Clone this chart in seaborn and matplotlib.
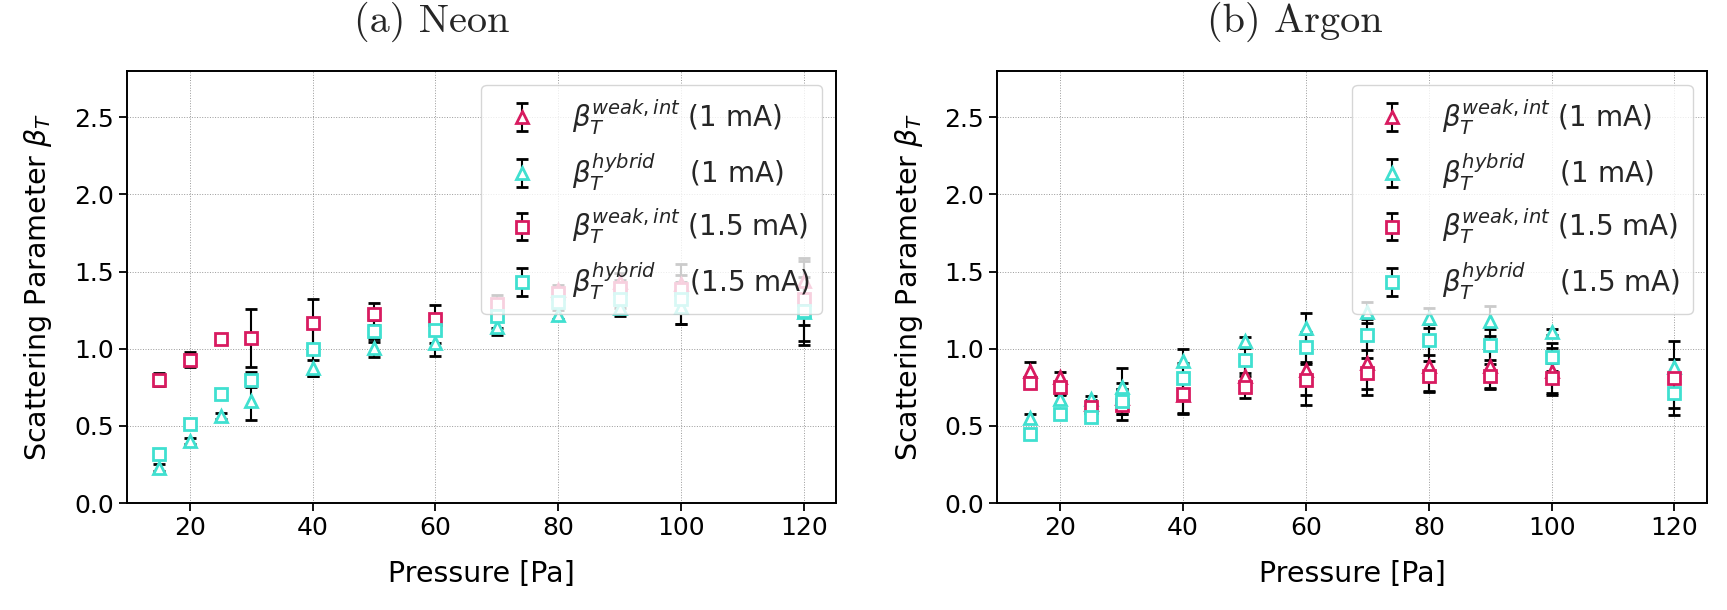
import numpy as np
import matplotlib
matplotlib.use("Agg")
import matplotlib.pyplot as plt
import seaborn as sns

nan = np.nan

# ---------------- data ----------------
pressure = [15, 20, 25, 30, 40, 50, 60, 70, 80, 90, 100, 120]
x_ticks = [20, 40, 60, 80, 100, 120]
y_ticks = [0.0, 0.5, 1.0, 1.5, 2.0, 2.5]

labels = [
    r"$\beta_T^{weak,int}$ (1 mA)",
    r"$\beta_T^{hybrid}$    (1 mA)",
    r"$\beta_T^{weak,int}$ (1.5 mA)",
    r"$\beta_T^{hybrid}$    (1.5 mA)",
]
titles = ["(a) Neon", "(b) Argon"]

# Neon
neon_weak_1 = [nan, nan, nan, nan, nan, nan, nan, nan, 1.38, 1.43, 1.42, 1.44]
neon_weak_1_err = [nan, nan, nan, nan, nan, nan, nan, nan, 0.03, 0.06, 0.13, 0.13]
neon_hyb_1 = [0.23, 0.40, 0.565, 0.66, 0.875, 1.005, 1.04, 1.14, 1.22, 1.265, 1.27, 1.24]
neon_hyb_1_err = [0.02, 0.02, 0.02, 0.12, 0.05, 0.06, 0.09, 0.05, 0.03, 0.05, 0.11, 0.085]
neon_weak_15 = [0.80, 0.93, 1.065, 1.07, 1.165, 1.225, 1.195, 1.29, 1.36, 1.395, 1.385, 1.32]
neon_weak_15_err = [0.04, 0.05, 0.03, 0.19, 0.16, 0.07, 0.09, 0.06, 0.03, 0.05, 0.05, 0.27]
neon_hyb_15 = [0.32, 0.515, 0.705, 0.80, 0.995, 1.115, 1.12, 1.215, 1.30, 1.325, 1.32, 1.245]
neon_hyb_15_err = [0.02, 0.03, 0.02, 0.05, 0.17, 0.07, 0.08, 0.08, 0.03, 0.06, 0.16, 0.22]

# Argon
argon_weak_1 = [0.853, 0.816, 0.64, 0.68, 0.70, 0.825, 0.864, 0.907, 0.885, 0.885, 0.853, nan]
argon_weak_1_err = [0.06, 0.03, 0.03, 0.10, 0.12, 0.10, 0.23, 0.21, 0.16, 0.14, 0.15, nan]
argon_hyb_1 = [0.55, 0.673, 0.673, 0.755, 0.918, 1.048, 1.134, 1.236, 1.199, 1.18, 1.106, 0.881]
argon_hyb_1_err = [0.03, 0.03, 0.02, 0.12, 0.08, 0.03, 0.10, 0.07, 0.065, 0.10, 0.02, 0.05]
argon_weak_15 = [0.781, 0.749, 0.625, 0.636, 0.706, 0.751, 0.799, 0.842, 0.82, 0.822, 0.81, 0.81]
argon_weak_15_err = [0.03, 0.04, 0.03, 0.10, 0.12, 0.07, 0.10, 0.10, 0.10, 0.08, 0.10, 0.24]
argon_hyb_15 = [0.446, 0.576, 0.556, 0.658, 0.81, 0.924, 1.011, 1.091, 1.058, 1.026, 0.946, 0.716]
argon_hyb_15_err = [0.02, 0.03, 0.02, 0.08, 0.10, 0.08, 0.10, 0.10, 0.10, 0.10, 0.09, 0.10]

RED = "#D81B60"
TEAL = "#40E0D0"

# ---------------- style ----------------
sns.set_theme(style="ticks")
plt.rcParams["font.family"] = ["DejaVu Sans"]
plt.rcParams["mathtext.fontset"] = "dejavusans"

fig = plt.figure(figsize=(17.27, 6.10), dpi=100)
ax1 = fig.add_axes([0.0735, 0.1754, 0.4106, 0.7082])
ax2 = fig.add_axes([0.5775, 0.1754, 0.4107, 0.7082])

panels = [
    (ax1, [(neon_weak_1, neon_weak_1_err), (neon_hyb_1, neon_hyb_1_err),
           (neon_weak_15, neon_weak_15_err), (neon_hyb_15, neon_hyb_15_err)]),
    (ax2, [(argon_weak_1, argon_weak_1_err), (argon_hyb_1, argon_hyb_1_err),
           (argon_weak_15, argon_weak_15_err), (argon_hyb_15, argon_hyb_15_err)]),
]
markers = ["^", "^", "s", "s"]
colors = [RED, TEAL, RED, TEAL]

for ax, series in panels:
    for (vals, errs), mk, col, lab in zip(series, markers, colors, labels):
        ax.errorbar(pressure, vals, yerr=errs, fmt=mk, color=col,
                    mfc="white", mec=col, ms=8.5, mew=2.0,
                    ecolor="black", elinewidth=1.5, capsize=4, capthick=2.4,
                    label=lab)
    ax.set_ylim(0, 2.8)
    ax.set_yticks(y_ticks)
    ax.set_xticks(x_ticks)
    ax.grid(True, linestyle=":", color="gray", linewidth=0.7, alpha=0.8)
    ax.set_axisbelow(True)
    for sp in ax.spines.values():
        sp.set_color("black")
        sp.set_linewidth(1.4)
    ax.tick_params(axis="both", labelsize=18, length=6, width=1.3,
                   color="black", labelcolor="black")
    ax.set_xlabel("Pressure [Pa]", fontsize=20.5, color="black", labelpad=14)
    ax.set_ylabel(r"Scattering Parameter $\beta_T$", fontsize=20.5,
                  color="black", labelpad=14)
    leg = ax.legend(loc="upper right", fontsize=20, framealpha=0.8,
                    edgecolor="0.8", fancybox=True, borderpad=0.45,
                    labelspacing=0.5)

fig.text(0.25, 1 - 22 / 610, titles[0], ha="center", va="center",
         fontfamily="cmr10", fontsize=29)
fig.text(0.75, 1 - 22 / 610, titles[1], ha="center", va="center",
         fontfamily="cmr10", fontsize=29)

fig.savefig("out.png", dpi=100)
